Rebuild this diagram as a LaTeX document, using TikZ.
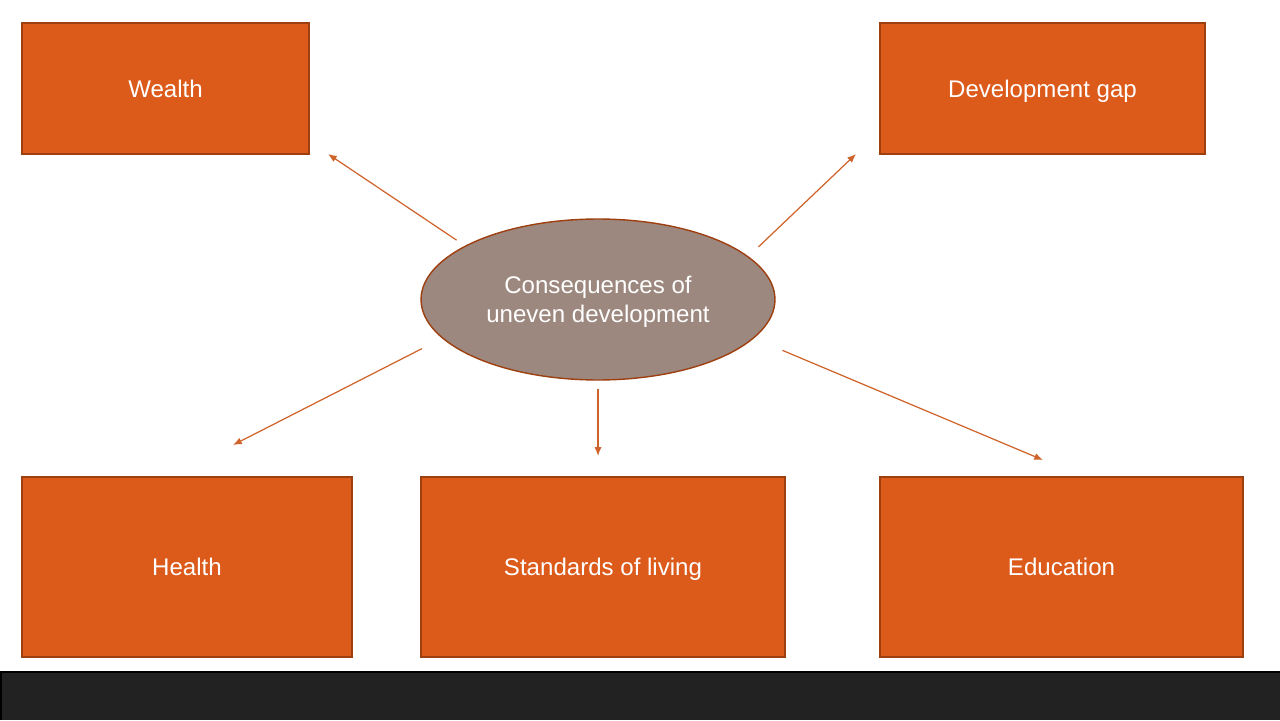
\documentclass[tikz,border=0pt]{standalone}
\usepackage{fontspec}
\setmainfont{Liberation Sans}
\usetikzlibrary{shapes.geometric,arrows.meta}

\definecolor{boxfill}{HTML}{DC5A1A}
\definecolor{boxline}{HTML}{9E3F10}
\definecolor{ellfill}{HTML}{9C887E}
\definecolor{arrline}{HTML}{D0632A}
\definecolor{barfill}{HTML}{222222}

\tikzset{
  topic/.style={rectangle, draw=boxline, line width=0.8pt, fill=boxfill,
    text=white, inner sep=0pt, minimum height=#1,
    text height=10pt, text depth=0pt},
  topic/.default=2.62cm,
  centre/.style={ellipse, draw=boxline, line width=0.8pt, fill=ellfill,
    text=white, inner sep=0pt, minimum width=7.08cm, minimum height=3.22cm,
    align=center, text depth=-3.3pt},
  arr/.style={draw=arrline, line width=0.7pt, -{Latex[length=5pt,width=4pt]}}
}

\begin{document}
\begin{tikzpicture}[x=0.02cm,y=-0.02cm]
\fontsize{13.7}{16.5}\selectfont
\useasboundingbox (0,0) rectangle (1280,720);

\fill[barfill] (1,672) rectangle (1280,720);
\draw[black, line width=0.6pt] (1,720) -- (1,672) -- (1280,672);

\node[centre] (ell) at (598,299.5) {Consequences of\\uneven development};

\node[topic, minimum width=5.74cm] (wealth) at (165.5,88.5) {Wealth};
\node[topic, minimum width=6.5cm] (gap) at (1042.5,88.5) {Development gap};
\node[topic=3.6cm, minimum width=6.6cm] (health) at (187,567) {Health};
\node[topic=3.6cm, minimum width=7.28cm] (living) at (603,567) {Standards of living};
\node[topic=3.6cm, minimum width=7.26cm] (educ) at (1061.5,567) {Education};

\coordinate (wealthtip) at (328,154);
\coordinate (gaptip) at (856,154);
\coordinate (healthtip) at (233,445);
\coordinate (livingtip) at (598,456);
\coordinate (eductip) at (1043,460);

\draw[arr, shorten <=5.7pt] (ell.158) -- (wealthtip);
\draw[arr, shorten <=7.8pt] (ell.16.3) -- (gaptip);
\draw[arr, shorten <=12.9pt] (ell.194.1) -- (healthtip);
\draw[arr, shorten <=4.6pt] (ell.270) -- (livingtip);
\draw[arr, shorten <=17.6pt] (ell.346.6) -- (eductip);
\end{tikzpicture}
\end{document}
